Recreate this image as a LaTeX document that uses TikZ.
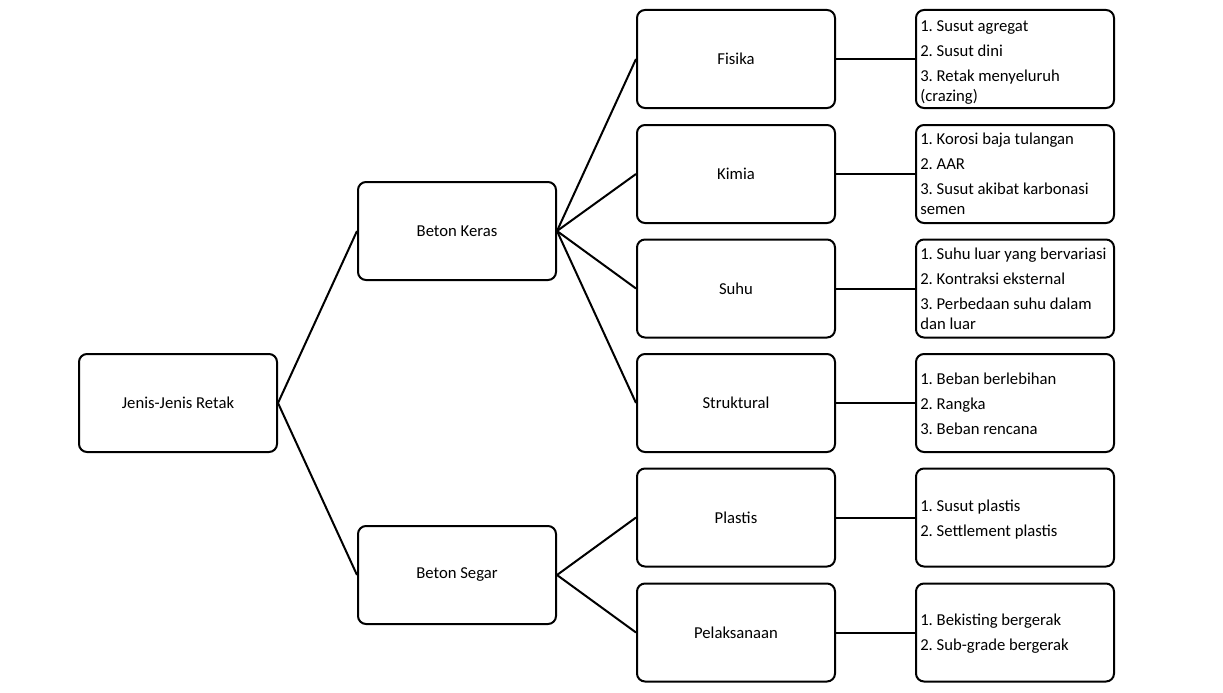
\documentclass[tikz,border=0pt]{standalone}
\usepackage{fontspec}
\setmainfont{Carlito}
\frenchspacing
\begin{document}
\begin{tikzpicture}[x=0.75pt,y=-0.75pt,
  box/.style={draw,line width=1.5pt,rounded corners=6pt,minimum width=148.5pt,minimum height=73.5pt,inner sep=0pt,align=center,font=\fontsize{12.5}{15}\selectfont},
  lst/.style={inner sep=0pt,text width=148pt,align=flush left,anchor=west,font=\fontsize{12.5}{15}\selectfont},
  conn/.style={line width=1.5pt}]
\useasboundingbox (0,0) rectangle (1223,692);
% level 1
\node[box] (root) at (178,403) {Jenis-Jenis Retak};
% level 2
\node[box] (keras) at (457,231) {Beton Keras};
\node[box] (segar) at (457,575) {Beton Segar};
% level 3
\node[box] (fis) at (736,59) {Fisika};
\node[box] (kim) at (736,174) {Kimia};
\node[box] (suh) at (736,288.5) {Suhu};
\node[box] (str) at (736,403) {Struktural};
\node[box] (pla) at (736,517.5) {Plastis};
\node[box] (pel) at (736,632.5) {Pelaksanaan};
% level 4 boxes
\node[box] (fisL) at (1015,59) {};
\node[box] (kimL) at (1015,174) {};
\node[box] (suhL) at (1015,288.5) {};
\node[box] (strL) at (1015,403) {};
\node[box] (plaL) at (1015,517.5) {};
\node[box] (pelL) at (1015,632.5) {};
% texts
\node[lst] (fisT) at (920,63) {1. Susut agregat\\[3.75pt]2. Susut dini\\[3.75pt]3. Retak menyeluruh\\(crazing)};
\node[lst] (kimT) at (920,174) {1. Korosi baja tulangan\\[3.75pt]2. AAR\\[3.75pt]3. Susut akibat karbonasi\\semen};
\node[lst] (suhT) at (920,289) {1. Suhu luar yang bervariasi\\[3.75pt]2. Kontraksi eksternal\\[3.75pt]3. Perbedaan suhu dalam\\dan luar};
\node[lst] (strT) at (920,403.5) {1. Beban berlebihan\\[3.75pt]2. Rangka\\[3.75pt]3. Beban rencana};
\node[lst] (plaT) at (920,519.5) {1. Susut plastis\\[3.75pt]2. Settlement plastis};
\node[lst] (pelT) at (920,634) {1. Bekisting bergerak\\[3.75pt]2. Sub-grade bergerak};
% connectors
\draw[conn] (root.east) -- (keras.west);
\draw[conn] (root.east) -- (segar.west);
\foreach \c in {fis,kim,suh,str} \draw[conn] (keras.east) -- (\c.west);
\foreach \c in {pla,pel} \draw[conn] (segar.east) -- (\c.west);
\foreach \c in {fis,kim,suh,str,pla,pel} \draw[conn] (\c.east) -- (\c L.west);
\end{tikzpicture}
\end{document}
